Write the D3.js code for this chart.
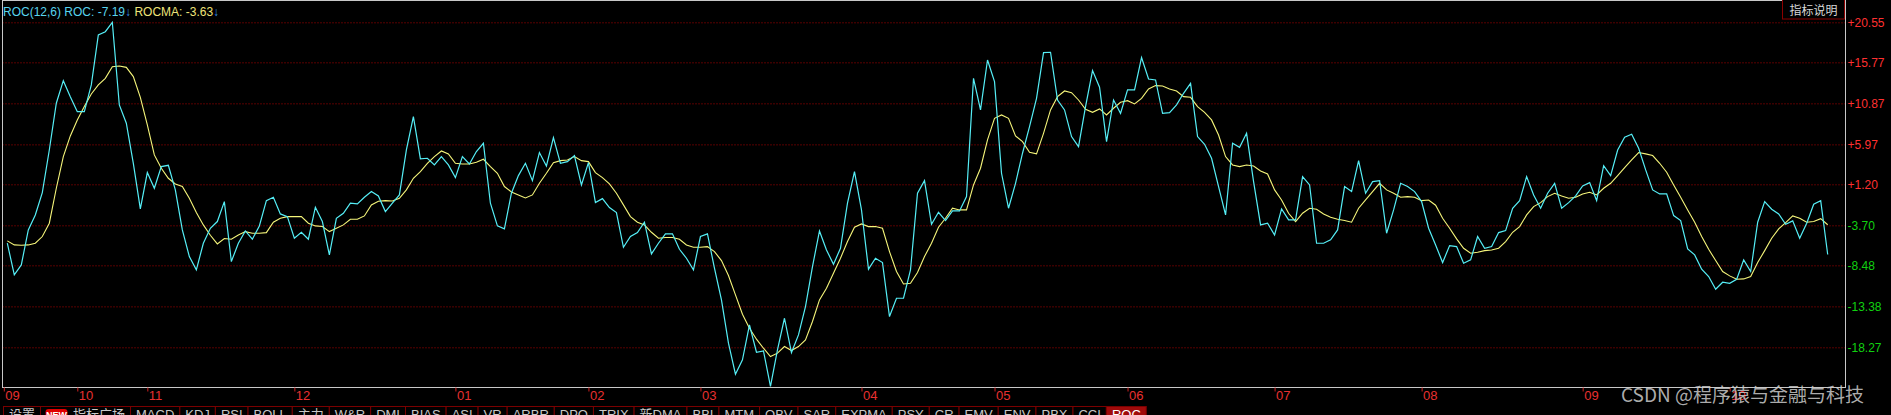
<!DOCTYPE html>
<html>
<head>
<meta charset="utf-8">
<script src="https://cdn.jsdelivr.net/npm/d3@7"></script>
<style>
  body { margin: 0; background: #000; }
  svg { display: block; }
</style>
</head>
<body>
<div id="root"></div>
<script>
// ROC(12,6), one value per trading day
var roc = [
  -5.84, -9.62, -8.43, -4.25, -2.46, 0.21, 5.30, 10.88, 13.58, 11.67,
  9.88, 9.88, 13.07, 19.04, 19.43, 20.55, 10.68, 8.49, 3.71, -1.74,
  2.60, 0.73, 3.31, 3.47, 0.53, -4.25, -7.43, -9.02, -5.84, -4.05,
  -3.25, -0.87, -8.03, -5.84, -4.37, -5.36, -3.77, -0.75, -0.35, -2.34,
  -2.66, -5.24, -4.53, -5.36, -1.54, -3.25, -7.23, -2.86, -2.26, -1.06,
  -1.14, -0.35, 0.33, -0.19, -2.06, -1.06, -0.07, 5.30, 9.28, 4.23,
  4.31, 3.51, 4.51, 3.51, 2.00, 4.51, 3.63, 5.11, 6.10, -1.06,
  -3.77, -4.13, 0.13, 2.24, 3.71, 1.64, 4.99, 3.39, 6.78, 3.71,
  3.91, 4.63, 1.12, 3.79, -0.99, -0.51, -1.58, -2.18, -6.32, -5.04,
  -4.57, -3.33, -7.11, -5.84, -4.72, -4.72, -6.56, -7.63, -9.02, -5.04,
  -4.72, -8.82, -12.61, -17.78, -21.48, -19.77, -15.59, -18.86, -18.70, -22.95,
  -18.58, -14.80, -18.90, -16.79, -13.40, -8.63, -4.37, -6.64, -8.35, -6.44,
  -1.06, 2.72, -1.86, -8.94, -7.63, -8.15, -14.60, -12.41, -12.41, -9.02,
  0.13, 1.64, -3.57, -2.14, -3.13, -1.98, -1.98, -0.27, 13.86, 10.08,
  16.05, 13.46, 2.52, -1.66, 1.32, 4.91, 8.09, 11.47, 16.93, 16.97,
  11.27, 10.08, 6.90, 5.70, 10.48, 14.78, 12.79, 6.30, 11.27, 9.68,
  12.47, 12.47, 16.33, 13.78, 13.66, 9.68, 9.76, 10.68, 12.07, 13.26,
  6.90, 5.98, 4.31, 0.93, -2.46, 6.10, 5.62, 7.29, 1.52, -3.65,
  -3.45, -4.85, -1.74, -3.05, -3.05, 2.12, 1.12, -5.84, -5.84, -5.44,
  -4.25, 0.93, 0.33, 4.03, 0.13, 1.52, 1.64, -4.65, -1.86, 1.32,
  0.93, 0.33, -0.87, -4.05, -6.04, -8.15, -6.12, -6.24, -8.23, -7.83,
  -5.04, -6.44, -6.24, -4.57, -4.33, -1.66, -0.75, 2.12, -0.07, -1.66,
  0.13, 1.32, -1.66, -0.99, -0.19, 1.00, 1.40, -0.75, 3.43, 2.24,
  5.30, 6.82, 7.17, 5.50, 2.92, 0.53, 0.05, 0.05, -2.54, -3.13,
  -6.52, -7.23, -8.94, -9.82, -11.33, -10.50, -10.62, -10.14, -7.83, -9.22,
  -3.33, -0.87, -1.78, -2.34, -3.57, -3.17, -5.24, -3.45, -1.18, -0.75,
  -7.19
];

// ROCMA
var rocma = [
  -5.56, -6.04, -6.08, -6.04, -5.84, -5.04, -3.45, 0.73, 4.51, 6.98,
  8.89, 10.48, 11.99, 13.07, 13.86, 15.25, 15.33, 15.17, 14.06, 11.59,
  8.29, 4.71, 3.12, 1.92, 1.24, 0.93, -0.47, -2.18, -3.65, -4.89,
  -5.92, -5.28, -5.36, -4.85, -4.45, -4.65, -4.65, -4.57, -3.33, -2.86,
  -2.66, -2.66, -2.66, -3.45, -3.77, -3.85, -4.45, -4.05, -3.65, -2.98,
  -2.98, -2.58, -1.26, -0.83, -0.75, -0.79, -0.47, 0.53, 1.92, 2.72,
  3.71, 4.51, 5.18, 4.83, 3.71, 3.63, 3.63, 3.83, 4.19, 3.31,
  2.52, 0.93, 0.29, -0.07, -0.43, -0.07, 1.32, 2.52, 3.79, 4.03,
  4.11, 4.51, 4.03, 3.91, 2.60, 2.00, 1.24, 0.13, -1.26, -2.66,
  -3.33, -3.65, -4.53, -5.24, -5.16, -5.16, -5.36, -6.04, -6.32, -6.32,
  -6.24, -6.84, -7.91, -9.70, -12.01, -14.32, -15.99, -17.30, -18.38, -19.37,
  -18.97, -18.18, -18.66, -18.18, -17.38, -15.19, -12.61, -11.21, -9.42, -7.63,
  -5.64, -3.93, -3.53, -3.85, -3.85, -4.05, -6.84, -9.22, -10.70, -10.62,
  -9.34, -7.43, -5.84, -3.93, -2.86, -1.66, -1.86, -1.86, 1.12, 3.12,
  6.50, 9.08, 9.48, 9.08, 6.98, 6.30, 5.03, 4.83, 7.29, 10.08,
  11.67, 12.35, 12.15, 11.27, 10.16, 9.80, 10.20, 9.48, 10.28, 10.99,
  11.19, 10.80, 11.47, 12.59, 12.99, 12.95, 12.59, 12.35, 11.67, 11.59,
  10.48, 9.80, 8.89, 7.09, 4.51, 3.51, 3.31, 3.51, 3.39, 2.80,
  2.44, 0.53, -0.67, -2.26, -3.25, -2.26, -1.66, -1.78, -2.34, -2.74,
  -2.98, -3.13, -3.33, -1.66, -0.67, 0.33, 1.32, 0.53, 0.13, -0.35,
  -0.27, -0.35, -0.75, -0.67, -1.30, -2.86, -4.05, -5.32, -6.44, -7.03,
  -6.91, -6.72, -6.64, -6.44, -5.64, -4.53, -3.85, -2.46, -1.46, -0.99,
  -0.27, 0.13, -0.19, -0.47, -0.35, 0.05, 0.25, -0.07, 0.73, 1.32,
  2.24, 3.19, 4.11, 4.99, 4.83, 4.63, 3.71, 2.64, 1.12, -0.35,
  -1.86, -3.33, -5.04, -6.56, -7.91, -9.22, -9.74, -10.14, -10.10, -9.82,
  -8.15, -6.72, -5.24, -4.13, -3.37, -2.58, -2.86, -3.33, -3.25, -2.90,
  -3.63
];

var yTicks = [20.55, 15.77, 10.87, 5.97, 1.20, -3.70, -8.48, -13.38, -18.27];
var monthLabels = ["09", "10", "11", "12", "01", "02", "03", "04", "05", "06", "07", "08", "09", "10"];
var monthIdx = [-0.5, 10, 20, 41, 64, 83, 99, 122, 141, 160, 181, 202, 225, 246];
var tabNames = ["设置", "指标广场", "MACD", "KDJ", "RSI", "BOLL", "主力", "W&R", "DMI", "BIAS",
  "ASI", "VR", "ARBR", "DPO", "TRIX", "新DMA", "BBI", "MTM", "OBV", "SAR", "EXPMA", "PSY",
  "CR", "EMV", "ENV", "PBX", "CCI", "ROC"];

var W = 1891, H = 415;
var plotLeft = 2.5, plotRight = 1845.5, plotBottom = 387.5;
var latin = "'Liberation Sans', Arial, sans-serif";
var cjk = "'Liberation Sans', 'Noto Sans CJK SC', sans-serif";

var svg = d3.select("#root").append("svg")
    .attr("width", W)
    .attr("height", H);

// set the ranges
var x = d3.scaleLinear()
    .domain([0, roc.length - 1])
    .range([7.3, 1827.7]);
var y = d3.scaleLinear()
    .domain([-18.27, 20.55])
    .range([347.3, 22.3]);

// value axis on the right, its ticks stretched back as dotted grid lines
var yAxis = svg.append("g")
    .attr("transform", "translate(" + plotRight + ",0)")
    .call(d3.axisRight(y)
      .tickValues(yTicks)
      .tickSizeInner(-(plotRight - plotLeft))
      .tickSizeOuter(0)
      .tickPadding(2)
      .tickFormat(function(d) { return (d > 0 ? "+" : "") + d.toFixed(2); }));
yAxis.select(".domain").remove();
yAxis.selectAll("line")
    .attr("stroke", "#b00000")
    .attr("stroke-dasharray", "1,2");
yAxis.selectAll("text")
    .attr("font-family", latin)
    .attr("font-size", 12)
    .attr("fill", function(d) { return d > 0 ? "#ff3030" : "#10d010"; });

// the two lines
var line = d3.line()
    .x(function(d, i) { return x(i); })
    .y(function(d) { return y(d); });

svg.append("path")
    .datum(rocma)
    .attr("fill", "none")
    .attr("stroke", "#f5f57a")
    .attr("stroke-width", 1.1)
    .attr("d", line);

svg.append("path")
    .datum(roc)
    .attr("fill", "none")
    .attr("stroke", "#55eef6")
    .attr("stroke-width", 1.2)
    .attr("d", line);

// frame of the plot
svg.append("rect")
    .attr("x", plotLeft)
    .attr("y", 0.5)
    .attr("width", plotRight - plotLeft)
    .attr("height", plotBottom - 0.5)
    .attr("fill", "none")
    .attr("stroke", "#c8c8c8");

// month axis
var xAxis = svg.append("g")
    .attr("transform", "translate(0," + plotBottom + ")")
    .call(d3.axisBottom(x)
      .tickValues(monthIdx)
      .tickSizeInner(4)
      .tickSizeOuter(0)
      .tickFormat(function(d, i) { return monthLabels[i]; }));
xAxis.select(".domain").remove();
xAxis.selectAll("line").attr("stroke", "#d02020");
xAxis.selectAll("text")
    .attr("font-family", latin)
    .attr("font-size", 13)
    .attr("fill", "#e83030")
    .attr("text-anchor", "start")
    .attr("dx", 1)
    .attr("y", 3)
    .attr("dy", "0.71em");

// legend
var legend = svg.append("text")
    .attr("x", 3)
    .attr("y", 16)
    .attr("font-family", latin)
    .attr("font-size", 12);
legend.append("tspan").attr("fill", "#58d4ee")
    .text("ROC(12,6) ROC: " + roc[roc.length - 1].toFixed(2));
legend.append("tspan").attr("fill", "#2f8fe8").attr("font-weight", "bold").text("↓");
legend.append("tspan").attr("fill", "#eee47a")
    .text(" ROCMA: " + rocma[rocma.length - 1].toFixed(2));
legend.append("tspan").attr("fill", "#2f8fe8").attr("font-weight", "bold").text("↓");

// 指标说明 button
svg.append("rect")
    .attr("x", 1782.5).attr("y", -1)
    .attr("width", 62).attr("height", 20)
    .attr("fill", "#000")
    .attr("stroke", "#8a0000");
svg.append("text")
    .attr("x", 1813.5).attr("y", 15)
    .attr("text-anchor", "middle")
    .attr("font-family", cjk)
    .attr("font-size", 12)
    .attr("fill", "#d8d8d8")
    .text("指标说明");

// tab bar at the bottom
var tabs = svg.append("g");
var tx = 3.5;
tabNames.forEach(function(name, i) {
  var g = tabs.append("g");
  var rect = g.append("rect");
  var badge = 0;
  if (name === "指标广场") {
    g.append("rect")
      .attr("x", tx + 5).attr("y", 409)
      .attr("width", 22).attr("height", 12)
      .attr("rx", 3)
      .attr("fill", "#e00000");
    g.append("text")
      .attr("x", tx + 16).attr("y", 418)
      .attr("text-anchor", "middle")
      .attr("font-family", latin)
      .attr("font-size", 9)
      .attr("font-weight", "bold")
      .attr("fill", "#fff")
      .text("NEW");
    badge = 27;
  }
  var t = g.append("text")
      .attr("x", tx + 5.5 + badge)
      .attr("y", 419)
      .attr("font-family", cjk)
      .attr("font-size", 13)
      .attr("fill", name === "ROC" ? "#fff" : "#c8c8c8")
      .text(name);
  var w = t.node().getComputedTextLength() + 11 + badge;
  rect.attr("x", tx).attr("y", 406.5)
      .attr("width", w).attr("height", 20)
      .attr("fill", name === "ROC" ? "#a00a0a" : "#000")
      .attr("stroke", "#7a0000");
  tx += w;
});

// watermark
svg.append("text")
    .attr("x", 1621)
    .attr("y", 402)
    .attr("font-family", "'Noto Sans CJK SC', sans-serif")
    .attr("font-size", 19)
    .attr("fill", "rgba(205,205,205,0.85)")
    .text("CSDN @程序猿与金融与科技");
</script>
</body>
</html>
